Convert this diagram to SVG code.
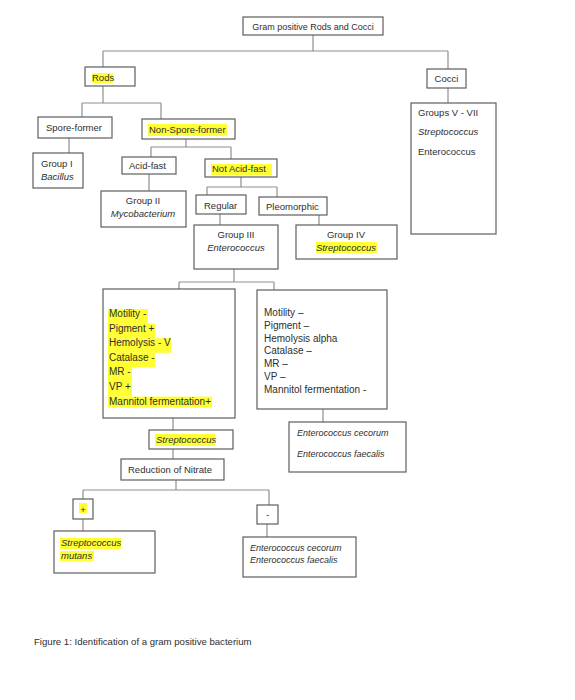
<svg xmlns="http://www.w3.org/2000/svg" width="575" height="700" viewBox="0 0 575 700">
<style>
.box{fill:#fff;stroke:#5e5e5e;stroke-width:1.2}
.ln{fill:none;stroke:#8f8f8f;stroke-width:1.2}
.t{font-family:"Liberation Sans",Arial,sans-serif;font-size:9.5px;fill:#2e2e2e}
.r{font-size:9px}
.s{font-size:10px}
.i{font-style:italic}
.m{text-anchor:middle}
.hl{fill:#ffff33}
</style>
<rect width="575" height="700" fill="#fff"/>
<g id="connectors">
<path class="ln" d="M313,35V51M103,51H448M103,51V67M448,51V69"/>
<path class="ln" d="M448,88V103"/>
<path class="ln" d="M103,86V103M82,103H161M82,103V117M161,103V119"/>
<path class="ln" d="M69,138V153"/>
<path class="ln" d="M186,139V147M151,147H231M151,147V157M231,147V159"/>
<path class="ln" d="M149,174V191"/>
<path class="ln" d="M241,177V187M207,187H277M207,187V195M277,187V197"/>
<path class="ln" d="M220,214V225"/>
<path class="ln" d="M319,215V225"/>
<path class="ln" d="M234,269V282M179,282H274M179,282V289M274,282V290"/>
<path class="ln" d="M173,418V430"/>
<path class="ln" d="M323,409V422"/>
<path class="ln" d="M173,449V459"/>
<path class="ln" d="M176,480V490M83,490H269M83,490V499M269,490V505"/>
<path class="ln" d="M83,519V531"/>
<path class="ln" d="M267,524V537"/>
</g>
<g id="root">
<rect class="box" x="243" y="17" width="140" height="18"/>
<text class="t r m" x="313" y="30">Gram positive Rods and Cocci</text>
</g>
<g id="rods">
<rect class="box" x="85" y="67" width="50" height="19"/>
<rect class="hl" x="92" y="73" width="21" height="10"/>
<text class="t" x="92" y="81">Rods</text>
</g>
<g id="cocci">
<rect class="box" x="427" y="69" width="39" height="19"/>
<text class="t m" x="446.5" y="82">Cocci</text>
</g>
<g id="groups57">
<rect class="box" x="411" y="103" width="85" height="131"/>
<text class="t" x="418" y="116">Groups V - VII</text>
<text class="t i" x="418" y="135">Streptococcus</text>
<text class="t" x="418" y="155">Enterococcus</text>
</g>
<g id="spore">
<rect class="box" x="38" y="117" width="74" height="21"/>
<text class="t" x="46" y="131">Spore-former</text>
</g>
<g id="nonspore">
<rect class="box" x="142" y="119" width="93" height="20"/>
<rect class="hl" x="148" y="124" width="79" height="12"/>
<text class="t" x="149" y="133">Non-Spore-former</text>
</g>
<g id="group1">
<rect class="box" x="33" y="153" width="50" height="35"/>
<text class="t" x="41" y="167">Group I</text>
<text class="t i" x="41" y="180">Bacillus</text>
</g>
<g id="acidfast">
<rect class="box" x="122" y="157" width="54" height="17"/>
<text class="t" x="129" y="169">Acid-fast</text>
</g>
<g id="notacidfast">
<rect class="box" x="205" y="159" width="72" height="18"/>
<rect class="hl" x="211" y="164" width="61" height="11"/>
<text class="t" x="212" y="172">Not Acid-fast</text>
</g>
<g id="group2">
<rect class="box" x="101" y="191" width="85" height="36"/>
<text class="t m" x="143" y="204">Group II</text>
<text class="t i m" x="143" y="217">Mycobacterium</text>
</g>
<g id="regular">
<rect class="box" x="196" y="195" width="50" height="19"/>
<text class="t" x="204" y="209">Regular</text>
</g>
<g id="pleomorphic">
<rect class="box" x="259" y="197" width="68" height="18"/>
<text class="t" x="266" y="210">Pleomorphic</text>
</g>
<g id="group3">
<rect class="box" x="194" y="225" width="84" height="44"/>
<text class="t m" x="236" y="238">Group III</text>
<text class="t i m" x="236" y="251">Enterococcus</text>
</g>
<g id="group4">
<rect class="box" x="296" y="225" width="101" height="34"/>
<text class="t m" x="346" y="238">Group IV</text>
<rect class="hl" x="316" y="242" width="61" height="11"/>
<text class="t i m" x="346" y="251">Streptococcus</text>
</g>
<g id="testsLeft">
<rect class="box" x="103" y="289" width="132" height="129"/>
<rect class="hl" x="108" y="309" width="40" height="14.6"/>
<rect class="hl" x="108" y="323.6" width="47" height="14.6"/>
<rect class="hl" x="108" y="338.2" width="63" height="14.6"/>
<rect class="hl" x="108" y="352.8" width="47" height="14.6"/>
<rect class="hl" x="108" y="367.4" width="24" height="14.6"/>
<rect class="hl" x="108" y="382" width="24" height="14.6"/>
<rect class="hl" x="108" y="396.6" width="104" height="11"/>
<text class="t s" x="109" y="317">Motility -</text>
<text class="t s" x="109" y="331.6">Pigment +</text>
<text class="t s" x="109" y="346.2">Hemolysis - V</text>
<text class="t s" x="109" y="360.8">Catalase -</text>
<text class="t s" x="109" y="375.4">MR -</text>
<text class="t s" x="109" y="390">VP +</text>
<text class="t s" x="109" y="404.6">Mannitol fermentation+</text>
</g>
<g id="testsRight">
<rect class="box" x="257" y="290" width="130" height="119"/>
<text class="t s" x="264" y="316">Motility –</text>
<text class="t s" x="264" y="328.8">Pigment –</text>
<text class="t s" x="264" y="341.6">Hemolysis alpha</text>
<text class="t s" x="264" y="354.4">Catalase –</text>
<text class="t s" x="264" y="367.2">MR –</text>
<text class="t s" x="264" y="380">VP –</text>
<text class="t s" x="264" y="392.8">Mannitol fermentation -</text>
</g>
<g id="entero1">
<rect class="box" x="289" y="422" width="117" height="50"/>
<text class="t r i" x="297" y="436">Enterococcus cecorum</text>
<text class="t r i" x="297" y="457">Enterococcus faecalis</text>
</g>
<g id="strepto">
<rect class="box" x="149" y="430" width="84" height="19"/>
<rect class="hl" x="155" y="434" width="60" height="12"/>
<text class="t i" x="156" y="443">Streptococcus</text>
</g>
<g id="nitrate">
<rect class="box" x="121" y="459" width="103" height="21"/>
<text class="t" x="128" y="473">Reduction of Nitrate</text>
</g>
<g id="plus">
<rect class="box" x="73" y="499" width="20" height="20"/>
<rect class="hl" x="79" y="503" width="8" height="10"/>
<text class="t m" x="83" y="513">+</text>
</g>
<g id="minus">
<rect class="box" x="257" y="505" width="21" height="19"/>
<text class="t m" x="267.5" y="518">-</text>
</g>
<g id="mutans">
<rect class="box" x="54" y="531" width="101" height="42"/>
<rect class="hl" x="60" y="538" width="61" height="11"/>
<rect class="hl" x="60" y="551" width="34" height="10"/>
<text class="t i" x="61" y="546">Streptococcus</text>
<text class="t i" x="61" y="559">mutans</text>
</g>
<g id="entero2">
<rect class="box" x="243" y="537" width="113" height="40"/>
<text class="t r i" x="250" y="551">Enterococcus cecorum</text>
<text class="t r i" x="250" y="563">Enterococcus faecalis</text>
</g>
<text class="t" x="34" y="645" style="font-size:9.6px">Figure 1:  Identification of a gram positive bacterium</text>
</svg>
